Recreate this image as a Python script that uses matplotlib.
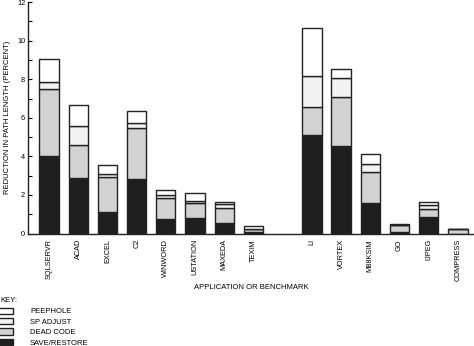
import matplotlib.pyplot as plt
import numpy as np

plt.rcParams['font.family'] = ['Liberation Sans', 'DejaVu Sans']

apps = ['SQLSERVR', 'ACAD', 'EXCEL', 'C2', 'WINWORD', 'USTATION', 'MAXEDA', 'TEXIM',
        'LI', 'VORTEX', 'M88KSIM', 'GO', 'IJPEG', 'COMPRESS']
positions = [0, 1, 2, 3, 4, 5, 6, 7, 9, 10, 11, 12, 13, 14]

# cumulative tops
save_restore = [4.0, 2.9, 1.13, 2.82, 0.76, 0.83, 0.53, 0.1,
                5.12, 4.54, 1.6, 0.07, 0.88, 0.0]
dead_code = [7.5, 4.57, 2.94, 5.47, 1.86, 1.6, 1.34, 0.24,
             6.55, 7.09, 3.17, 0.43, 1.27, 0.22]
sp_adjust = [7.88, 5.56, 3.1, 5.73, 2.0, 1.69, 1.51, 0.26,
             8.18, 8.04, 3.6, 0.46, 1.49, 0.22]
peephole = [9.05, 6.64, 3.55, 6.35, 2.24, 2.08, 1.61, 0.41,
            10.65, 8.52, 4.11, 0.51, 1.63, 0.22]

series = [
    ('SAVE/RESTORE', np.array(save_restore), '#1e1e1e'),
    ('DEAD CODE', np.array(dead_code), '#d2d2d2'),
    ('SP ADJUST', np.array(sp_adjust), '#f2f2f2'),
    ('PEEPHOLE', np.array(peephole), '#ffffff'),
]

fs = 5.5

fig = plt.figure(figsize=(4.74, 3.46), dpi=100)
ax = fig.add_axes([0.059, 0.325, 0.941, 0.669])

handles = {}
prev = np.zeros(len(apps))
for name, top, color in series:
    h = ax.bar(positions, top - prev, bottom=prev, width=0.66, color=color,
               edgecolor='#222222', linewidth=1.0)
    handles[name] = h
    prev = top

ax.set_xlim(-0.72, 14.55)
ax.set_ylim(0, 12)
ax.set_yticks(range(0, 13, 2))
ax.set_yticks(range(1, 12, 2), minor=True)
ax.tick_params(axis='y', direction='in', length=3, width=0.8, labelsize=5.3, pad=2)
ax.tick_params(axis='y', which='minor', direction='in', length=3, width=0.8)
ax.set_xticks(positions)
ax.set_xticklabels(apps, rotation=90, fontsize=5.3)
ax.tick_params(axis='x', length=0, pad=4)

for s in ['top', 'right']:
    ax.spines[s].set_visible(False)
for s in ['left', 'bottom']:
    ax.spines[s].set_linewidth(1.0)
    ax.spines[s].set_color('#222222')

ax.set_ylabel('REDUCTION IN PATH LENGTH (PERCENT)', fontsize=fs, labelpad=4)
fig.text(0.53, 0.17, 'APPLICATION OR BENCHMARK', ha='center', va='center', fontsize=fs)

fig.text(0.0, 1 - 300 / 346, 'KEY:', ha='left', va='center', fontsize=fs)
order = ['PEEPHOLE', 'SP ADJUST', 'DEAD CODE', 'SAVE/RESTORE']
leg = fig.legend([handles[k] for k in order], order, loc='upper left',
                 bbox_to_anchor=(-0.04, 1 - 307.5 / 346), frameon=False, fontsize=fs,
                 handlelength=4.2, handleheight=0.95, handletextpad=2.2,
                 labelspacing=0.32, borderpad=0.0, borderaxespad=0.0)

fig.savefig('out.png', dpi=100)
